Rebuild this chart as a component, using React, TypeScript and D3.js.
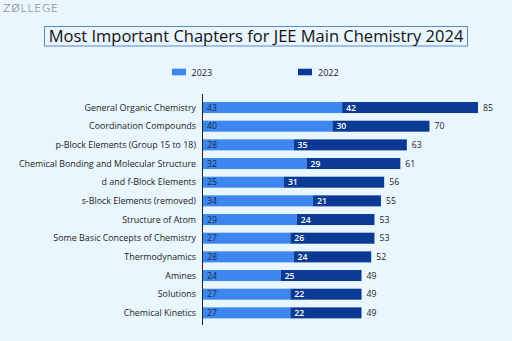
import React from "react";
import * as d3 from "d3";

const categories = [
  "General Organic Chemistry",
  "Coordination Compounds",
  "p-Block Elements (Group 15 to 18)",
  "Chemical Bonding and Molecular Structure",
  "d and f-Block Elements",
  "s-Block Elements (removed)",
  "Structure of Atom",
  "Some Basic Concepts of Chemistry",
  "Thermodynamics",
  "Amines",
  "Solutions",
  "Chemical Kinetics",
];
const values2023 = [43, 40, 28, 32, 25, 34, 29, 27, 28, 24, 27, 27];
const values2022 = [42, 30, 35, 29, 31, 21, 24, 26, 24, 25, 22, 22];
const seriesNames = ["2023", "2022"];

const W = 512;
const H = 341;
const BG = "#eaf6fe";
const C2023 = "#3d86ef";
const C2022 = "#0a3a93";
const FONT = "'Open Sans', sans-serif";

export default function App() {
  const x = d3.scaleLinear().domain([0, 85]).range([203, 478]);
  const y = d3
    .scaleBand<string>()
    .domain(categories)
    .range([98.2, 322.2])
    .paddingInner(0.41)
    .paddingOuter(0.205);
  const bw = y.bandwidth();

  return (
    <svg
      width={W}
      height={H}
      style={{ position: "fixed", left: 0, top: 0, display: "block" }}
      fontFamily={FONT}
    >
      <rect width={W} height={H} fill={BG} />
      <text x={3} y={12} fontSize={11} fill="#666" letterSpacing={0.7} fontFamily="'DejaVu Sans', sans-serif" fontWeight={300}>
        ZØLLEGE
      </text>
      <rect x={44.5} y={26.5} width={423} height={19.5} fill="none" stroke="#5a8ad0" strokeWidth={1} />
      <text x={256} y={41.8} textAnchor="middle" fontSize={16.5} fill="#111" fontWeight={500}>
        Most Important Chapters for JEE Main Chemistry 2024
      </text>

      {/* legend */}
      <rect x={172} y={68.7} width={14} height={6.6} fill={C2023} />
      <text x={191.5} y={75.5} fontSize={9} fill="#222">{seriesNames[0]}</text>
      <rect x={298} y={68.7} width={14} height={6.6} fill={C2022} />
      <text x={318} y={75.5} fontSize={9} fill="#222">{seriesNames[1]}</text>

      {categories.map((c, i) => {
        const y0 = y(c)!;
        const a = values2023[i];
        const b = values2022[i];
        const cy = y0 + bw / 2;
        return (
          <g key={c}>
            <text x={196} y={cy + 3} textAnchor="end" fontSize={8.9} fill="#222">
              {c}
            </text>
            <rect x={x(0)} y={y0} width={x(a) - x(0)} height={bw} fill={C2023} />
            <rect x={x(a)} y={y0} width={x(a + b) - x(a)} height={bw} fill={C2022} />
            <text x={x(0) + 4} y={cy + 3.2} fontSize={8.7} fill="#1a2a40">{a}</text>
            <text x={x(a) + 4} y={cy + 3.2} fontSize={8.7} fill="#fff" fontWeight={600}>{b}</text>
            <text x={x(a + b) + 5} y={cy + 3.2} fontSize={8.7} fill="#222">{a + b}</text>
          </g>
        );
      })}
      <line x1={202.5} x2={202.5} y1={94} y2={325} stroke="#222" strokeWidth={1} />
    </svg>
  );
}
